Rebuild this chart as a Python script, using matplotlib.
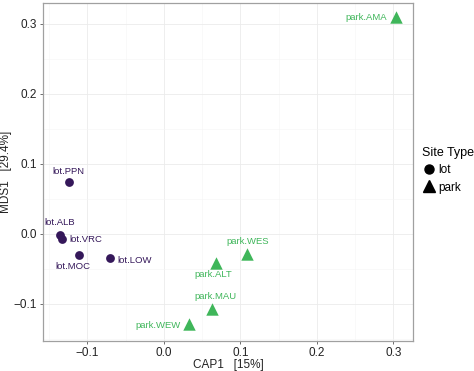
import matplotlib.pyplot as plt
from matplotlib.lines import Line2D

# Data
sites = ["lot.PPN", "lot.ALB", "lot.VRC", "lot.MOC", "lot.LOW",
         "park.ALT", "park.MAU", "park.WEW", "park.WES", "park.AMA"]
site_type = ["lot", "lot", "lot", "lot", "lot",
             "park", "park", "park", "park", "park"]
cap1 = [-0.1246, -0.136, -0.1325, -0.111, -0.0706,
        0.068, 0.0623, 0.033, 0.109, 0.304]
mds1 = [0.074, -0.001, -0.007, -0.030, -0.035,
        -0.041, -0.108, -0.129, -0.029, 0.310]

x_ticks = [-0.1, 0.0, 0.1, 0.2, 0.3]
y_ticks = [-0.1, 0.0, 0.1, 0.2, 0.3]

colors = {"lot": "#35185a", "park": "#3fb65a"}
markers = {"lot": "o", "park": "^"}
sizes = {"lot": 40, "park": 80}

# label placement (offset in pixels, horizontal alignment)
label_pos = {
    "lot.PPN": ((0, 11), "center"),
    "lot.ALB": ((0, 12), "center"),
    "lot.VRC": ((7, -1), "left"),
    "lot.MOC": ((-6, -12), "center"),
    "lot.LOW": ((8, -2), "left"),
    "park.ALT": ((-3, -12), "center"),
    "park.MAU": ((4, 13), "center"),
    "park.WEW": ((-8, -1), "right"),
    "park.WES": ((0, 13), "center"),
    "park.AMA": ((-9, -1), "right"),
}

plt.rcParams["font.family"] = ["Liberation Sans", "DejaVu Sans"]

fig = plt.figure(figsize=(4.74, 3.71), dpi=100)
ax = fig.add_axes([0.0907, 0.0809, 0.7803, 0.9111])

for t in ["lot", "park"]:
    xs = [x for x, s in zip(cap1, site_type) if s == t]
    ys = [y for y, s in zip(mds1, site_type) if s == t]
    ax.scatter(xs, ys, s=sizes[t], marker=markers[t], color=colors[t],
               linewidths=0, zorder=3)

for name, x, y, t in zip(sites, cap1, mds1, site_type):
    off, ha = label_pos[name]
    ax.annotate(name, (x, y), xytext=off, textcoords="offset pixels",
                ha=ha, va="center", fontsize=6.8, color=colors[t], zorder=4)

ax.set_xlim(-0.158, 0.3255)
ax.set_ylim(-0.153, 0.33)
ax.set_xticks(x_ticks)
ax.set_yticks(y_ticks)
ax.set_xticklabels(["\u22120.1", "0.0", "0.1", "0.2", "0.3"])
ax.set_yticklabels(["\u22120.1", "0.0", "0.1", "0.2", "0.3"])
ax.tick_params(labelsize=8.5, length=2.5, width=0.6, color="#555555",
               labelcolor="#222222", pad=2)

# light grid with minor lines like theme_bw
ax.set_xticks([-0.15, -0.05, 0.05, 0.15, 0.25], minor=True)
ax.set_yticks([-0.15, -0.05, 0.05, 0.15, 0.25], minor=True)
ax.tick_params(which="minor", length=0)
ax.grid(True, which="major", color="#ebebeb", linewidth=0.6)
ax.grid(True, which="minor", color="#f5f5f5", linewidth=0.4)
ax.set_axisbelow(True)
for sp in ax.spines.values():
    sp.set_color("#a0a0a0")
    sp.set_linewidth(0.9)

ax.set_xlabel("CAP1   [15%]", fontsize=8.5, labelpad=0, color="#222222")
ax.set_ylabel("MDS1   [29.4%]", fontsize=8.5, labelpad=1, color="#222222")

handles = [
    Line2D([], [], marker="o", linestyle="", color="black", markersize=6.5, label="lot"),
    Line2D([], [], marker="^", linestyle="", color="black", markersize=8, label="park"),
]
leg = fig.legend(handles=handles, title="Site Type", loc="upper left",
                 bbox_to_anchor=(0.877, 0.62), frameon=False, fontsize=8.5,
                 title_fontsize=9, handletextpad=0.2, labelspacing=0.45,
                 borderpad=0, handlelength=1.2)
leg._legend_box.align = "left"

fig.savefig("out.png", dpi=100)
